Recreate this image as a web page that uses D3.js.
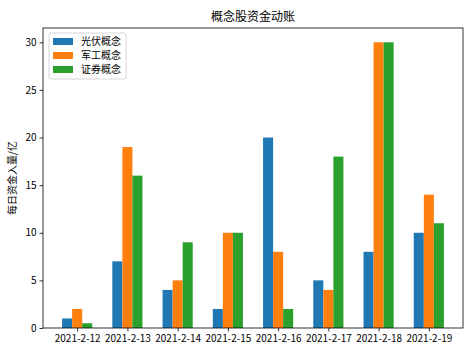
<!DOCTYPE html>
<html><head><meta charset="utf-8">
<script src="https://cdn.jsdelivr.net/npm/d3@7"></script>
<style>body{margin:0;background:#fff;} text{font-family:"Noto Sans CJK SC",sans-serif;}</style>
</head><body>
<svg id="chart" width="474" height="355"></svg>
<script>
const categories = ["2021-2-12","2021-2-13","2021-2-14","2021-2-15","2021-2-16","2021-2-17","2021-2-18","2021-2-19"];
const seriesNames = ["光伏概念","军工概念","证券概念"];
const pv = [1,7,4,2,20,5,8,10];
const military = [2,19,5,10,8,4,30,14];
const securities = [0.5,16,9,10,2,18,30,11];
const yTicks = [0,5,10,15,20,25,30];
const colors = ["#1f77b4","#ff7f0e","#2ca02c"];
const seriesData = [pv, military, securities];

const svg = d3.select("#chart");
const L=43, R=463, T=28, B=328;
const x = d3.scaleLinear().domain([-0.68, 7.68]).range([L,R]);
const y = d3.scaleLinear().domain([0,31.5]).range([B,T]);
const bw = 0.2;

seriesData.forEach((vals, s) => {
  svg.append("g").selectAll("rect").data(vals).join("rect")
    .attr("x", (d,i) => x(i + (s-1)*bw - bw/2))
    .attr("width", (d,i) => x(i + (s-1)*bw + bw/2) - x(i + (s-1)*bw - bw/2))
    .attr("y", d => y(d))
    .attr("height", d => y(0) - y(d))
    .attr("fill", colors[s]);
});

const xAxis = svg.append("g").attr("transform",`translate(0,${B})`)
  .call(d3.axisBottom(x).tickValues(d3.range(categories.length)).tickFormat(i=>categories[i]).tickSizeOuter(0).tickSize(3.5).tickPadding(3));
const yAxis = svg.append("g").attr("transform",`translate(${L},0)`)
  .call(d3.axisLeft(y).tickValues(yTicks).tickSizeOuter(0).tickSize(3.5).tickPadding(3));
[xAxis,yAxis].forEach(g=>{
  g.select(".domain").remove();
  g.selectAll("text").attr("font-size","10px").attr("fill","#000").style("font-family",'"Noto Sans CJK SC",sans-serif');
  g.selectAll("line").attr("stroke","#000").attr("stroke-width",0.8);
});

svg.append("rect").attr("x",L).attr("y",T).attr("width",R-L).attr("height",B-T)
  .attr("fill","none").attr("stroke","#000").attr("stroke-width",0.8);

svg.append("text").attr("x",(L+R)/2).attr("y",T-7).attr("text-anchor","middle")
  .attr("font-size","12px").text("概念股资金动账");
svg.append("text").attr("transform",`translate(16,${(T+B)/2}) rotate(-90)`).attr("text-anchor","middle")
  .attr("font-size","10px").text("每日资金入量/亿");

const lg = svg.append("g").attr("transform",`translate(${L+6},${T+5})`);
lg.append("rect").attr("x",0).attr("y",0).attr("width",77).attr("height",46).attr("rx",2)
  .attr("fill","#fff").attr("fill-opacity",0.8).attr("stroke","#ccc").attr("stroke-width",0.8);
seriesNames.forEach((n,i)=>{
  lg.append("rect").attr("x",4).attr("y",5+i*14).attr("width",20).attr("height",7).attr("fill",colors[i]);
  lg.append("text").attr("x",32).attr("y",12+i*14).attr("font-size","10px").text(n);
});
</script>
</body></html>
